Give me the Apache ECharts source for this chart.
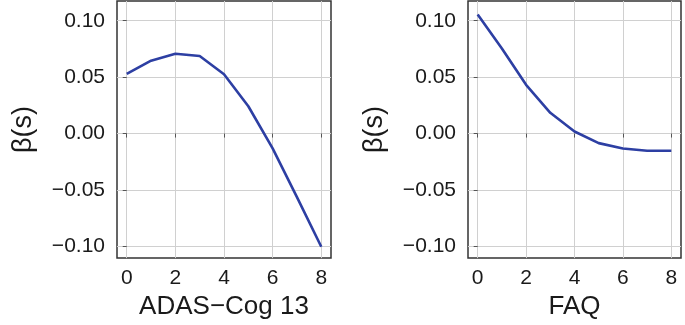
<!DOCTYPE html>
<html>
<head>
<meta charset="utf-8">
<script src="https://cdn.jsdelivr.net/npm/echarts@6/dist/echarts.min.js"></script>
<style>
  html, body { margin: 0; padding: 0; background: #fff; }
</style>
</head>
<body>
<div id="main" style="width: 685px; height: 325px;"></div>
<script>
// data
var sValues = [0, 1, 2, 3, 4, 5, 6, 7, 8];
var adasBeta = [0.0529, 0.0646, 0.0707, 0.0687, 0.0526, 0.0242, -0.0132, -0.0563, -0.1003];
var faqBeta = [0.1056, 0.0754, 0.0432, 0.0184, 0.0018, -0.0085, -0.0132, -0.0153, -0.0153];
var xTicks = [0, 2, 4, 6, 8];
var yTicks = [-0.10, -0.05, 0.00, 0.05, 0.10];
var panelNames = ['ADAS\u2212Cog 13', 'FAQ'];

var chartDom = document.getElementById('main');
var myChart = echarts.init(chartDom);
var option;

var font = 'Liberation Sans, Arial, Helvetica, sans-serif';
var lineColor = '#2d3fa3';

function fmtY(v) {
    var s = Math.abs(v).toFixed(2);
    return v < -1e-9 ? '\u2212' + s : s;
}

function makeX(idx, name) {
    return {
        type: 'value',
        gridIndex: idx,
        min: -0.4,
        max: 8.4,
        name: name,
        nameLocation: 'middle',
        nameGap: 35,
        nameTextStyle: { fontFamily: font, fontSize: 26, color: '#1a1a1a' },
        axisLine: { show: false },
        axisTick: { show: true, inside: false, length: 4, customValues: xTicks, lineStyle: { color: '#555' } },
        axisLabel: { customValues: xTicks, margin: 10, fontFamily: font, fontSize: 21, color: '#1a1a1a' },
        splitLine: { show: true, lineStyle: { color: '#d0d0d0', width: 1 } }
    };
}

function makeY(idx) {
    return {
        type: 'value',
        gridIndex: idx,
        min: -0.1104,
        max: 0.1175,
        name: '\u03b2(s)',
        nameLocation: 'middle',
        nameGap: 80,
        nameTextStyle: { fontFamily: font, fontSize: 27, color: '#1a1a1a' },
        axisLine: { show: false },
        axisTick: { show: true, inside: false, length: 4, customValues: yTicks, lineStyle: { color: '#555' } },
        axisLabel: { customValues: yTicks, margin: 12, fontFamily: font, fontSize: 21, color: '#1a1a1a', formatter: fmtY },
        splitLine: { show: true, lineStyle: { color: '#d0d0d0', width: 1 } }
    };
}

function pairs(ys) {
    return sValues.map(function (x, i) { return [x, ys[i]]; });
}

option = {
    animation: false,
    backgroundColor: '#fff',
    grid: [
        { left: 117, top: 1, width: 214, height: 259, show: true, borderColor: '#333', borderWidth: 1.5, backgroundColor: 'transparent' },
        { left: 468, top: 1, width: 213, height: 259, show: true, borderColor: '#333', borderWidth: 1.5, backgroundColor: 'transparent' }
    ],
    xAxis: [makeX(0, panelNames[0]), makeX(1, panelNames[1])],
    yAxis: [makeY(0), makeY(1)],
    series: [
        {
            type: 'line',
            xAxisIndex: 0,
            yAxisIndex: 0,
            data: pairs(adasBeta),
            showSymbol: false,
            lineStyle: { color: lineColor, width: 2.6 }
        },
        {
            type: 'line',
            xAxisIndex: 1,
            yAxisIndex: 1,
            data: pairs(faqBeta),
            showSymbol: false,
            lineStyle: { color: lineColor, width: 2.6 }
        }
    ]
};

option && myChart.setOption(option);
</script>
</body>
</html>
